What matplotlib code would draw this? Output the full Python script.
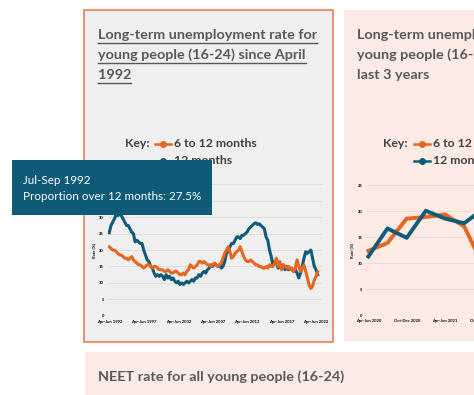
import numpy as np
import matplotlib
matplotlib.use('Agg')
import matplotlib.pyplot as plt
from matplotlib.patches import Rectangle
from matplotlib.lines import Line2D

plt.rcParams['font.family'] = ['Lato', 'DejaVu Sans']

# long-term series: quarterly values from Apr-Jun 1992 to Jul-Sep 2022
first_quarter = 1992.375
over_12_months = [
    25.3, 27.5, 28.5,
    29.5, 31.0, 30.5, 31.0,  # 1993
    30.5, 29.5, 28.5, 27.5,
    27.5, 26.5, 25.5, 25.0,  # 1995
    22.5, 23.0, 22.5, 22.0,
    22.0, 20.0, 18.5, 17.0,  # 1997
    16.5, 15.0, 14.5, 13.0,
    12.0, 12.5, 12.0, 12.5,  # 1999
    12.0, 11.0, 12.5, 11.5,
    12.0, 11.0, 11.5, 10.5,  # 2001
    10.0, 10.5, 9.5, 10.0,
    9.5, 10.0, 10.5, 10.0,   # 2003
    10.5, 11.0, 10.5, 11.5,
    11.5, 12.5, 12.0, 13.0,  # 2005
    13.5, 13.0, 14.0, 14.5,
    15.5, 15.0, 16.0, 15.5,  # 2007
    15.0, 15.5, 14.5, 15.0,
    16.5, 19.0, 19.5, 21.0,  # 2009
    22.0, 22.0, 23.0, 24.0,
    24.0, 23.5, 24.5, 24.5,  # 2011
    25.0, 25.5, 26.5, 27.0,
    27.5, 28.0, 28.3, 27.8,  # 2013
    28.0, 27.5, 27.0, 26.5,
    24.0, 23.0, 20.0, 18.0,  # 2015
    15.5, 16.5, 16.0, 14.5,
    15.0, 14.5, 15.5, 14.0,  # 2017
    15.0, 14.0, 14.5, 14.0,
    13.5, 14.0, 13.0, 11.5,  # 2019
    13.0, 15.0, 17.5, 19.5,
    19.0, 19.5, 20.0, 17.5,  # 2021
    15.0, 14.0, 12.5,
]
six_to_12_months = [
    21.0, 20.5, 20.0,
    20.0, 19.5, 19.0, 18.5,  # 1993
    18.5, 18.0, 17.5, 17.5,
    17.0, 17.5, 18.0, 17.0,  # 1995
    16.5, 16.0, 15.5, 15.5,
    15.0, 14.5, 15.0, 15.5,  # 1997
    15.5, 15.0, 14.5, 15.0,
    15.0, 14.5, 14.0, 14.0,  # 1999
    14.0, 13.5, 13.5, 14.0,
    13.5, 13.0, 13.0, 13.5,  # 2001
    13.5, 13.0, 12.5, 12.5,
    13.0, 12.5, 13.5, 14.0,  # 2003
    15.5, 15.0, 14.5, 15.0,
    15.5, 16.5, 16.5, 16.0,  # 2005
    16.5, 16.0, 15.5, 15.5,
    15.0, 15.5, 16.0, 15.5,  # 2007
    15.0, 15.5, 16.0, 17.5,
    19.0, 20.0, 21.0, 19.5,  # 2009
    17.5, 18.0, 19.0, 19.5,
    20.0, 21.0, 19.5, 18.0,  # 2011
    17.0, 16.5, 16.5, 17.0,
    16.5, 16.0, 15.5, 15.5,  # 2013
    15.0, 15.0, 14.5, 14.5,
    15.0, 14.5, 15.5, 15.0,  # 2015
    15.0, 16.0, 17.5, 15.0,
    16.5, 14.0, 15.5, 15.0,  # 2017
    14.5, 15.0, 14.0, 14.5,
    13.5, 14.5, 17.0, 15.0,  # 2019
    13.4, 14.5, 15.4, 13.5,
    11.5, 9.3, 8.3, 9.0,     # 2021
    10.9, 12.0, 13.4,
]
long_tick_years = [1992, 1997, 2002, 2007, 2012, 2017, 2022]
long_tick_labels = ['Apr-Jun %d' % y for y in long_tick_years]

# last 3 years
recent_quarters = ['Apr-Jun 2020', 'Jul-Sep 2020', 'Oct-Dec 2020', 'Jan-Mar 2021',
                   'Apr-Jun 2021', 'Jul-Sep 2021', 'Oct-Dec 2021', 'Jan-Mar 2022',
                   'Apr-Jun 2022', 'Jul-Sep 2022']
recent_six_to_12 = [12.4, 13.9, 18.6, 18.9, 19.4, 17.1, 9.5, 8.5, 10.5, 12.5]
recent_over_12 = [11.3, 16.7, 14.9, 20.1, 18.6, 17.7, 20.5, 15.0, 14.5, 12.5]

orange = '#e5661f'
blue = '#0f5b79'
grey_text = '#595959'
peach = '#fbebe4'

W, H = 474, 395
fig = plt.figure(figsize=(W / 100, H / 100), dpi=100)
fig.patch.set_facecolor('white')


def fx(x):
    return x / W


def fy(y):
    return 1 - y / H


def box(x0, y0, x1, y1, **kw):
    r = Rectangle((fx(x0), fy(y1)), (x1 - x0) / W, (y1 - y0) / H,
                  transform=fig.transFigure, **kw)
    fig.patches.append(r)
    return r


# panels
box(84, 10, 333, 342, facecolor='#efefef', edgecolor='#e9876a', lw=1.3, zorder=-2)
box(344, 10, 500, 341, facecolor=peach, edgecolor='none', zorder=-2)
box(85, 352, 500, 420, facecolor=peach, edgecolor='none', zorder=-2)

# titles
left_title = ['Long-term unemployment rate for',
              'young people (16-24) since April', '1992']
right_title = ['Long-term unemployment rate for',
               'young people (16-24) over the', 'last 3 years']
title_texts = []
for i, line in enumerate(left_title):
    t = fig.text(fx(98), fy(35 + 20 * i), line, fontsize=10.4, fontweight='bold',
                 color=grey_text, va='center', ha='left')
    title_texts.append(t)
for i, line in enumerate(right_title):
    fig.text(fx(357), fy(35 + 20 * i), line, fontsize=10.4, fontweight='bold',
             color=grey_text, va='center', ha='left')
fig.text(fx(98), fy(377), 'NEET rate for all young people (16-24)', fontsize=10.4,
         fontweight='bold', color=grey_text, va='center', ha='left')

# keys
for kx in (126, 385):
    fig.text(fx(kx + 23), fy(144), 'Key:', fontsize=8.8, fontweight='bold',
             color='#404040', va='center', ha='right')
    for row, (col, lab) in enumerate([(orange, '6 to 12 months'), (blue, '12 months')]):
        yy = fy(144 + 17 * row)
        fig.add_artist(Line2D([fx(kx + 29), fx(kx + 45)], [yy, yy], color=col, lw=1.8,
                              transform=fig.transFigure))
        fig.add_artist(Line2D([fx(kx + 37)], [yy], color=col, marker='o', ms=4,
                              transform=fig.transFigure))
        fig.text(fx(kx + 48), yy, lab, fontsize=8.8, fontweight='bold',
                 color='#404040', va='center', ha='left')

# left chart
years = first_quarter + 0.25 * np.arange(len(over_12_months))
ax1 = fig.add_axes([fx(108), fy(315.7), (322 - 108) / W, (315.7 - 184.4) / H])
ax1.set_facecolor('none')
ax1.plot(years, over_12_months, color=blue, lw=2.2, solid_joinstyle='round')
ax1.plot(years, six_to_12_months, color=orange, lw=2.2, solid_joinstyle='round')
ax1.set_ylim(0, 40)
ax1.set_xlim(1992.19, 2023.24)
ax1.set_yticks(range(0, 45, 5))
ax1.set_xticks([y + 0.375 for y in long_tick_years])
ax1.set_xticklabels(long_tick_labels)
ax1.set_ylabel('Rate (%)', fontsize=3, fontweight='bold', labelpad=2)

# right chart
ax2 = fig.add_axes([fx(366.4), fy(315.3), (567.7 - 366.4) / W, (315.3 - 185.3) / H])
ax2.set_facecolor('none')
xi = np.arange(len(recent_quarters))
ax2.plot(xi, recent_six_to_12, color=orange, lw=2.8, solid_joinstyle='round')
ax2.plot(xi, recent_over_12, color=blue, lw=2.8, solid_joinstyle='round')
ax2.set_ylim(0, 25)
ax2.set_xlim(-0.1, 10.4)
ax2.set_yticks(range(0, 30, 5))
ax2.set_xticks(xi[::2])
ax2.set_xticklabels(recent_quarters[::2])
ax2.set_ylabel('Rate (%)', fontsize=3, fontweight='bold', labelpad=2)

for ax, gc in ((ax1, '#dadada'), (ax2, '#ecd9d0')):
    for s in ax.spines.values():
        s.set_visible(False)
    ax.tick_params(length=0, labelsize=3, pad=3)
    for lab in ax.get_xticklabels() + ax.get_yticklabels():
        lab.set_fontweight('bold')
    ax.grid(axis='y', color=gc, lw=0.6)
    ax.set_axisbelow(True)

# tooltip
box(12, 160, 212, 215, facecolor='#0e5a77', edgecolor='none', zorder=20)
fig.text(fx(23), fy(181), 'Jul-Sep 1992', color='white', fontsize=8.4,
         va='center', ha='left', zorder=21)
fig.text(fx(23), fy(196), 'Proportion over 12 months: 27.5%', color='white',
         fontsize=8.4, va='center', ha='left', zorder=21)

# underline the left title
renderer = fig.canvas.get_renderer()
for t in title_texts:
    bb = t.get_window_extent(renderer)
    yline = bb.y0 - 1.5
    fig.add_artist(Line2D([bb.x0 / W, bb.x1 / W], [yline / H, yline / H],
                          color=grey_text, lw=1.0, transform=fig.transFigure, zorder=1))

fig.savefig('out.png', dpi=100)
